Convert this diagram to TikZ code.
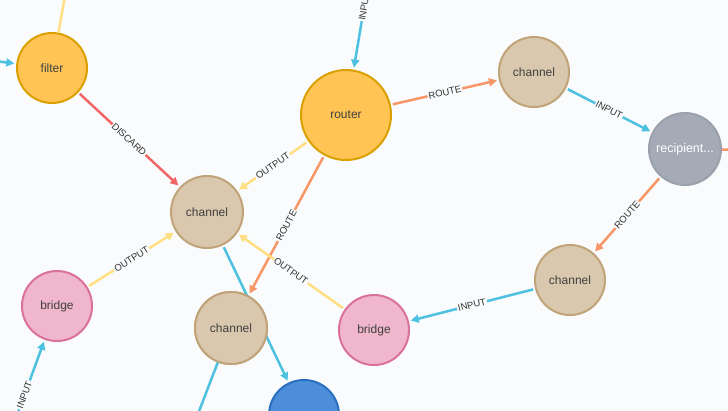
\documentclass[tikz,border=0pt]{standalone}
\usepackage{fontspec}
\setmainfont{Liberation Sans}
\usetikzlibrary{arrows.meta}
\definecolor{bg}{HTML}{F9FBFD}
\definecolor{orf}{HTML}{FFC454}\definecolor{ors}{HTML}{D9A000}
\definecolor{tanf}{HTML}{D9C8AE}\definecolor{tans}{HTML}{C0A378}
\definecolor{pkf}{HTML}{F0B6CC}\definecolor{pks}{HTML}{DA7298}
\definecolor{gyf}{HTML}{A5ABB6}\definecolor{gys}{HTML}{9AA1AC}
\definecolor{blf}{HTML}{4C8EDA}\definecolor{bls}{HTML}{2870C2}
\definecolor{ered}{HTML}{F16667}\definecolor{eyel}{HTML}{FFDF81}
\definecolor{eora}{HTML}{F79767}\definecolor{ecya}{HTML}{4EC1E0}
\tikzset{
 nd/.style={circle,line width=2pt,minimum size=#1,inner sep=0pt,font=\fontsize{12}{12}\selectfont,text=black!75},
 orn/.style={nd=70pt,fill=orf,draw=ors},
 tn/.style={nd=70pt,fill=tanf,draw=tans},
 pn/.style={nd=70pt,fill=pkf,draw=pks},
 ed/.style={line width=2.5pt,-{Triangle[length=8pt,width=8pt]},shorten >=2pt,shorten <=2pt},
 ln/.style={line width=2.5pt},
 lb/.style={midway,sloped,fill=bg,inner sep=1pt,font=\fontsize{9.5}{10}\selectfont,text=black!80},
}
\begin{document}
\begin{tikzpicture}[x=1pt,y=-1pt]
\useasboundingbox (0,0) rectangle (728,410);
\fill[bg] (0,0) rectangle (728,410);
\clip (0,0) rectangle (728,410);
\coordinate (t1) at (372,-40);
\coordinate (l1) at (-30,58);
\coordinate (fy) at (68,-20);
\coordinate (bl) at (8,440);
\coordinate (rr) at (760,150);
\coordinate (cl) at (188,440);
\node[orn] (filter) at (52,68) {filter};
\node[orn,minimum size=90pt] (router) at (346,115) {router};
\node[tn] (ct) at (534,72) {channel};
\node[nd=72pt,fill=gyf,draw=gys,text=white,font=\fontsize{12.5}{13}\selectfont] (rec) at (685,149) {recipient...};
\node[tn,minimum size=72pt] (cm) at (207,212) {channel};
\node[tn] (cr) at (570,280) {channel};
\node[pn] (bl1) at (57,306) {bridge};
\node[tn,minimum size=72pt] (clw) at (231,328) {channel};
\node[pn] (br) at (374,330) {bridge};
\node[nd=70pt,fill=blf,draw=bls] (bn) at (304,415) {};
% edges
\draw[ed,ecya] (cm) -- (bn);
\node[tn,minimum size=72pt] at (231,328) {channel};
\draw[ln,ecya] (clw) -- (cl);
\draw[ln,eyel] (filter) -- (fy);
\draw[ed,ecya] (l1) -- (filter);
\draw[ln,eora] (rec) -- (rr);
\draw[ed,ered] (filter) -- node[lb]{DISCARD} (cm);
\draw[ed,eyel] (router) -- node[lb]{OUTPUT} (cm);
\draw[ed,eora] (router) -- node[lb]{ROUTE} (ct);
\draw[ed,eora] (router) -- node[lb]{ROUTE} (clw);
\draw[ed,ecya] (ct) -- node[lb]{INPUT} (rec);
\draw[ed,eora] (rec) -- node[lb]{ROUTE} (cr);
\draw[ed,ecya] (cr) -- node[lb]{INPUT} (br);
\draw[ed,eyel] (bl1) -- node[lb]{OUTPUT} (cm);
\draw[ed,eyel] (br) -- node[lb]{OUTPUT} (cm);
\draw[ed,ecya] (t1) -- node[lb,pos=0.42]{INPUT} (router);
\draw[ed,ecya] (bl) -- node[lb,pos=0.45]{INPUT} (bl1);
\end{tikzpicture}
\end{document}
